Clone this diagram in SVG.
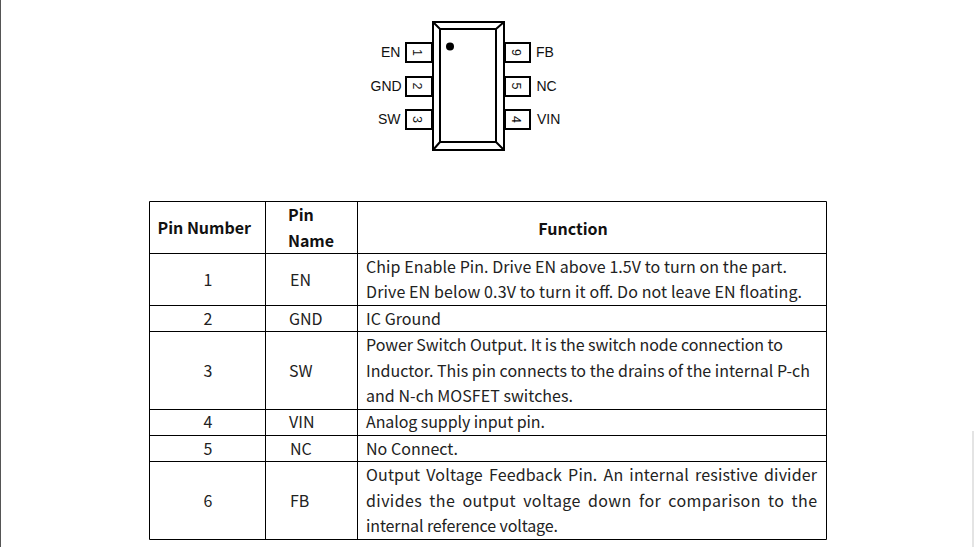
<svg xmlns="http://www.w3.org/2000/svg" width="974" height="547" viewBox="0 0 974 547">
<style>
.l{fill:none;stroke:#000;stroke-width:1}
.c{fill:none;stroke:#000;stroke-width:2}
.p{fill:#fff;stroke:#000;stroke-width:2}
.a{font-family:"Liberation Sans",Arial,sans-serif;font-size:14px;fill:#111}
.n{font-family:"Liberation Sans",Arial,sans-serif;font-size:12.500px;fill:#111;text-anchor:middle}
.t{font-family:"Noto Sans CJK SC","Noto Sans",sans-serif;font-size:16px;fill:#222}
.m{text-anchor:middle}
.b{font-weight:700;fill:#111}
</style>
<rect width="974" height="547" fill="#fff"/>
<rect x="0" y="0" width="1" height="547" fill="#555"/>
<rect x="972" y="431" width="2" height="116" fill="#e4e4e4"/>
<g id="chip">
<rect class="c" x="433" y="22" width="71" height="128" />
<rect class="c" x="440" y="29" width="56" height="113"/>
<path class="c" d="M433 22L440 29M504 22L496 29M433 150L440 142M504 150L496 142"/>
<circle cx="450" cy="46.500" r="4" fill="#000"/>
</g>
<g id="pin1"><rect class="p" x="406" y="43" width="26" height="19"/><text class="n" transform="translate(417.500 52.500) rotate(90)" y="4.500">1</text><text class="a" x="381" y="57">EN</text></g>
<g id="pin2"><rect class="p" x="406" y="77" width="26" height="19"/><text class="n" transform="translate(417.500 86) rotate(90)" y="4.500">2</text><text class="a" x="370.500" y="91">GND</text></g>
<g id="pin3"><rect class="p" x="406" y="110" width="26" height="19"/><text class="n" transform="translate(417.500 119.500) rotate(90)" y="4.500">3</text><text class="a" x="378" y="124">SW</text></g>
<g id="pin6"><rect class="p" x="505" y="43" width="25" height="19"/><text class="n" transform="translate(516 52.500) rotate(-90)" y="4.500">6</text><text class="a" x="536" y="57">FB</text></g>
<g id="pin5"><rect class="p" x="505" y="77" width="25" height="19"/><text class="n" transform="translate(516 86) rotate(90)" y="4.500">5</text><text class="a" x="536.500" y="91">NC</text></g>
<g id="pin4"><rect class="p" x="505" y="110" width="25" height="19"/><text class="n" transform="translate(516 119.500) rotate(90)" y="4.500">4</text><text class="a" x="537" y="124">VIN</text></g>
<g id="table-grid">
<path class="l" d="M149.500 201.500H826.500V539.500H149.500ZM149.500 253.500H826.500M149.500 305.500H826.500M149.500 331.500H826.500M149.500 409.500H826.500M149.500 435.500H826.500M149.500 461.500H826.500M265.500 201.500V539.500M357.500 201.500V539.500"/>
</g>
<g id="table-text">
<text class="t b" x="157.500" y="234" textLength="93.500">Pin Number</text>
<text class="t b" x="288" y="221">Pin</text>
<text class="t b" x="288" y="246.500" textLength="46">Name</text>
<text class="t b m" x="573" y="235">Function</text>
<text class="t m" x="208" y="286">1</text><text class="t" x="290" y="286">EN</text>
<text class="t" x="366" y="273" textLength="421">Chip Enable Pin. Drive EN above 1.5V to turn on the part.</text>
<text class="t" x="366" y="298" textLength="436">Drive EN below 0.3V to turn it off. Do not leave EN floating.</text>
<text class="t m" x="208" y="325">2</text><text class="t" x="289" y="325">GND</text>
<text class="t" x="366" y="325" textLength="75">IC Ground</text>
<text class="t m" x="208" y="377">3</text><text class="t" x="289" y="377">SW</text>
<text class="t" x="366" y="351" textLength="417">Power Switch Output. It is the switch node connection to</text>
<text class="t" x="366" y="377" textLength="444">Inductor. This pin connects to the drains of the internal P-ch</text>
<text class="t" x="366" y="402" textLength="207">and N-ch MOSFET switches.</text>
<text class="t m" x="208" y="428">4</text><text class="t" x="289" y="428">VIN</text>
<text class="t" x="366" y="428" textLength="179">Analog supply input pin.</text>
<text class="t m" x="208" y="455">5</text><text class="t" x="290" y="455">NC</text>
<text class="t" x="366" y="455" textLength="92">No Connect.</text>
<text class="t m" x="208" y="507">6</text><text class="t" x="290" y="507">FB</text>
<text class="t" x="366" y="481" textLength="451" word-spacing="2.300">Output Voltage Feedback Pin. An internal resistive divider</text>
<text class="t" x="366" y="507" textLength="451" word-spacing="3.200">divides the output voltage down for comparison to the</text>
<text class="t" x="366" y="532" textLength="192">internal reference voltage.</text>
</g>
</svg>
